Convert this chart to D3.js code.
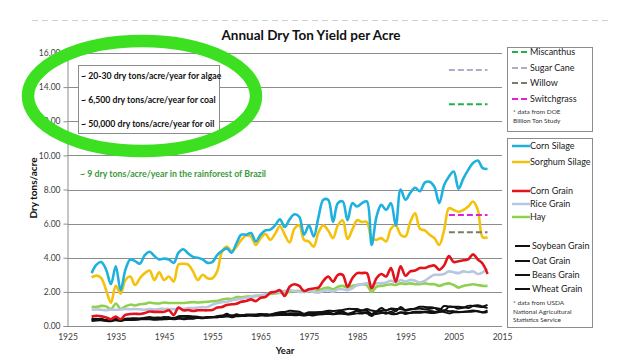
<!DOCTYPE html>
<html><head><meta charset="utf-8">
<script src="https://cdn.jsdelivr.net/npm/d3@7"></script>
<style>body{margin:0;background:#fff}svg{display:block}text{font-family:Lato,"Open Sans",sans-serif}</style>
</head><body><svg id="c" width="640" height="360"></svg>
<script>
const years = d3.range(1930, 2013);
const cornSilage = [3.1,3.6,3.75,3.3,2.45,3.5,2.1,3.3,3.9,3.8,3.65,4.15,4.35,4.1,3.9,3.95,3.9,3.7,4.3,4.5,4.25,4.05,4.0,3.9,3.7,3.75,4.15,4.4,4.55,4.3,4.85,5.35,5.35,5.45,4.95,5.35,5.6,5.65,5.9,6.25,5.8,6.25,6.55,6.4,5.35,5.9,5.25,6.4,7.4,7.4,6.1,7.2,7.3,6.2,7.2,7.0,7.2,7.3,4.75,6.4,7.1,6.8,7.2,5.9,8.0,7.4,7.8,8.1,7.9,8.4,8.45,8.15,7.2,8.25,8.75,9.05,8.05,8.65,9.15,9.55,9.7,9.25,9.2];
const sorghumSilage = [2.85,2.95,2.8,2.1,1.37,2.35,1.9,2.7,2.9,2.4,2.8,3.1,3.25,2.7,3.15,2.7,2.9,2.6,3.6,3.65,3.6,3.2,2.7,3.0,2.8,2.8,3.2,4.35,4.65,4.4,4.65,5.05,5.3,5.25,4.75,5.15,5.4,5.05,5.4,5.85,5.35,4.9,5.7,5.9,5.05,4.95,4.65,5.5,5.9,5.6,5.15,5.9,6.2,5.1,5.65,6.2,6.1,6.1,5.15,5.05,5.15,4.95,5.7,5.9,5.35,5.25,6.1,6.6,5.7,5.6,5.35,5.15,4.75,5.6,6.9,6.8,6.7,6.8,7.0,7.3,6.8,5.2,5.2];
const cornGrain = [0.55,0.6,0.57,0.5,0.4,0.55,0.4,0.65,0.7,0.72,0.7,0.76,0.85,0.83,0.83,0.83,0.92,0.65,1.08,0.92,0.94,0.88,0.92,0.92,0.92,0.94,1.08,1.12,1.23,1.27,1.3,1.42,1.46,1.56,1.46,1.66,1.7,1.95,2.0,2.1,1.76,2.3,2.45,2.35,2.05,2.15,2.2,2.25,2.65,2.9,2.6,3.0,3.0,2.3,2.8,3.1,3.1,3.1,2.2,2.8,3.05,2.9,3.4,2.6,3.5,2.95,3.2,3.25,3.4,3.4,3.5,3.55,3.3,3.55,4.1,3.75,3.8,3.85,3.9,4.2,3.9,3.65,3.05];
const riceGrain = [0.95,0.97,0.95,0.93,0.95,0.95,0.97,1.0,0.98,1.0,0.98,0.95,1.0,0.97,1.0,1.0,1.0,0.98,1.02,1.0,1.05,1.05,1.08,1.1,1.12,1.25,1.35,1.4,1.42,1.5,1.55,1.6,1.65,1.72,1.78,1.8,1.85,1.95,1.95,1.98,2.05,2.1,2.05,2.0,2.0,2.05,2.0,1.95,2.05,2.1,2.0,2.15,2.15,2.1,2.2,2.4,2.45,2.5,2.4,2.5,2.5,2.55,2.65,2.55,2.7,2.6,2.7,2.65,2.55,2.65,2.85,3.0,3.0,3.05,3.2,3.15,3.1,3.2,3.15,3.2,3.05,3.15,3.35];
const hay = [1.12,1.12,1.18,1.15,0.98,1.32,1.0,1.15,1.25,1.2,1.28,1.3,1.38,1.33,1.32,1.38,1.35,1.35,1.35,1.35,1.38,1.4,1.38,1.4,1.42,1.45,1.47,1.55,1.6,1.58,1.7,1.68,1.72,1.72,1.75,1.8,1.82,1.88,1.9,1.95,1.95,2.0,2.05,2.05,2.0,2.05,2.0,2.1,2.2,2.25,2.15,2.3,2.35,2.25,2.35,2.4,2.45,2.4,2.0,2.3,2.35,2.4,2.45,2.4,2.5,2.45,2.5,2.45,2.45,2.5,2.45,2.45,2.35,2.45,2.5,2.4,2.25,2.35,2.4,2.45,2.4,2.35,2.35];
const soybeanGrain = [0.35,0.36,0.37,0.35,0.33,0.37,0.32,0.43,0.44,0.46,0.43,0.48,0.5,0.49,0.5,0.48,0.52,0.44,0.57,0.58,0.58,0.56,0.54,0.48,0.53,0.52,0.57,0.61,0.64,0.63,0.62,0.63,0.63,0.65,0.6,0.65,0.67,0.65,0.71,0.72,0.71,0.73,0.74,0.73,0.63,0.76,0.7,0.81,0.79,0.85,0.7,0.82,0.84,0.7,0.74,0.9,0.89,0.89,0.71,0.86,0.91,0.92,1.0,0.86,1.11,0.94,1.0,1.0,1.02,0.98,1.01,1.05,1.01,0.89,1.12,1.13,1.13,1.1,1.05,1.17,1.14,1.11,1.06];
const oatGrain = [0.44,0.4,0.43,0.31,0.28,0.43,0.3,0.4,0.38,0.41,0.44,0.45,0.51,0.42,0.43,0.53,0.49,0.41,0.5,0.43,0.49,0.5,0.47,0.45,0.51,0.52,0.51,0.54,0.62,0.51,0.6,0.62,0.64,0.64,0.62,0.71,0.61,0.64,0.72,0.72,0.69,0.73,0.7,0.7,0.65,0.66,0.61,0.77,0.73,0.77,0.72,0.75,0.83,0.72,0.8,0.9,0.77,0.74,0.59,0.82,0.82,0.72,0.84,0.7,0.8,0.7,0.78,0.83,0.83,0.83,0.88,0.84,0.83,0.92,0.87,0.87,0.82,0.82,0.87,0.91,0.86,0.79,0.82];
const beansGrain = [0.3,0.32,0.33,0.32,0.29,0.35,0.32,0.35,0.36,0.37,0.39,0.4,0.39,0.36,0.38,0.39,0.41,0.4,0.43,0.45,0.46,0.46,0.48,0.49,0.5,0.51,0.52,0.53,0.55,0.56,0.57,0.58,0.59,0.6,0.59,0.61,0.62,0.61,0.63,0.64,0.64,0.65,0.63,0.64,0.61,0.66,0.65,0.67,0.69,0.71,0.69,0.72,0.72,0.67,0.7,0.74,0.73,0.79,0.7,0.7,0.76,0.77,0.71,0.7,0.78,0.8,0.76,0.78,0.78,0.81,0.77,0.76,0.82,0.82,0.74,0.8,0.8,0.84,0.83,0.85,0.87,0.81,0.92];
const wheatGrain = [0.37,0.43,0.35,0.3,0.34,0.33,0.33,0.36,0.35,0.37,0.4,0.45,0.5,0.44,0.46,0.45,0.46,0.48,0.47,0.4,0.43,0.43,0.48,0.48,0.49,0.52,0.55,0.57,0.72,0.57,0.69,0.62,0.67,0.67,0.68,0.7,0.69,0.68,0.75,0.81,0.82,0.89,0.87,0.83,0.72,0.8,0.8,0.81,0.83,0.9,0.88,0.91,0.94,1.0,1.0,0.99,0.92,0.99,0.91,0.87,1.05,0.9,1.03,1.0,0.99,0.93,0.96,1.03,1.13,1.12,1.1,1.06,0.92,1.17,1.14,1.11,1.02,1.07,1.18,1.18,1.22,1.15,1.24];
const refYears = [2004, 2012];
const refNames = ["Miscanthus","Sugar Cane","Willow","Switchgrass"];
const refValues = [13, 15, 5.5, 6.5];
const usdaNames = ["Corn Silage","Sorghum Silage","Corn Grain","Rice Grain","Hay","Soybean Grain","Oat Grain","Beans Grain","Wheat Grain"];
const yTicks = [0,2,4,6,8,10,12,14,16];
const xTicks = [1925,1935,1945,1955,1965,1975,1985,1995,2005,2015];
const notes = ["~ 20-30 dry tons/acre/year for algae","~ 6,500 dry tons/acre/year for coal","~ 50,000 dry tons/acre/year for oil"];
const brazilNote = "~ 9 dry tons/acre/year in the rainforest of Brazil";

const svg = d3.select("#c");
const x = d3.scaleLinear().domain([1925, 2015]).range([67.5, 502]);
const y = d3.scaleLinear().domain([0, 16]).range([326, 53]);

// top dashed separator
svg.append("line").attr("x1",32).attr("x2",610).attr("y1",20.5).attr("y2",20.5)
  .attr("stroke","#d0d0d0").attr("stroke-width",1).attr("stroke-dasharray","6,4");

// title
svg.append("text").attr("x",311).attr("y",40).attr("text-anchor","middle")
  .attr("font-size",13.5).attr("font-weight","bold").attr("fill","#111").text("Annual Dry Ton Yield per Acre");

// gridlines
svg.append("g").selectAll("line").data(yTicks).join("line")
  .attr("x1",x(1925)).attr("x2",x(2015)).attr("y1",d=>Math.round(y(d))+0.5).attr("y2",d=>Math.round(y(d))+0.5)
  .attr("stroke","#8c8c8c").attr("stroke-width",1);

// y axis
const yAxis = d3.axisLeft(y).tickValues(yTicks).tickFormat(d3.format(".2f")).tickSize(4).tickPadding(3);
const gy = svg.append("g").attr("transform",`translate(${x(1925)},0)`).call(yAxis);
gy.select(".domain").attr("stroke","#8c8c8c");
gy.selectAll(".tick line").attr("stroke","#8c8c8c");
gy.selectAll("text").attr("font-size",8.5).attr("fill","#404040").attr("font-family","Lato");

// x axis
const xAxis = d3.axisBottom(x).tickValues(xTicks).tickFormat(d3.format("d")).tickSize(0).tickPadding(8);
const gx = svg.append("g").attr("transform",`translate(0,${y(0)})`).call(xAxis);
gx.select(".domain").remove();
gx.selectAll("text").attr("font-size",8.5).attr("fill","#404040").attr("font-family","Lato");

// axis titles
svg.append("text").attr("x",285).attr("y",354).attr("text-anchor","middle").attr("font-size",9.5)
  .attr("font-weight","bold").attr("fill","#111").text("Year");
svg.append("text").attr("transform","translate(37,188) rotate(-90)").attr("text-anchor","middle").attr("font-size",10)
  .attr("font-weight","bold").attr("fill","#111").text("Dry tons/acre");

// series
const line = d3.line().x((d,i)=>x(years[i])).y(d=>y(d)).curve(d3.curveCatmullRom.alpha(0.5));
const blackSeries = [soybeanGrain, oatGrain, beansGrain, wheatGrain];
const g = svg.append("g").attr("fill","none");
blackSeries.forEach(s=>g.append("path").attr("d",line(s)).attr("stroke","#111").attr("stroke-width",2));
g.append("path").attr("d",line(hay)).attr("stroke","#8fd14f").attr("stroke-width",2.6);
g.append("path").attr("d",line(riceGrain)).attr("stroke","#b9c6df").attr("stroke-width",2.6);
g.append("path").attr("d",line(cornGrain)).attr("stroke","#e3121b").attr("stroke-width",2.6);
g.append("path").attr("d",line(sorghumSilage)).attr("stroke","#f4c20d").attr("stroke-width",2.6);
g.append("path").attr("d",line(cornSilage)).attr("stroke","#1eb1de").attr("stroke-width",2.6);

// reference dashed lines (DOE)
const refColors = ["#23b04b","#b3aacc","#7f7a66","#e01fd9"];
refValues.forEach((v,i)=>{
  svg.append("line").attr("x1",x(refYears[0])).attr("x2",x(refYears[1])).attr("y1",y(v)).attr("y2",y(v))
    .attr("stroke",refColors[i]).attr("stroke-width",2).attr("stroke-dasharray","6,3");
});

// legend 1
svg.append("rect").attr("x",507.5).attr("y",47.5).attr("width",85).attr("height",84).attr("fill","#fff").attr("stroke","#8c8c8c");
const l1y = [52,68,83,99];
refNames.forEach((n,i)=>{
  svg.append("line").attr("x1",512).attr("x2",528).attr("y1",l1y[i]).attr("y2",l1y[i]).attr("stroke",refColors[i])
    .attr("stroke-width",2).attr("stroke-dasharray","6,3");
  svg.append("text").attr("x",530).attr("y",l1y[i]+3.2).attr("font-size",9).attr("fill","#222").text(n);
});
svg.append("text").attr("x",513).attr("y",114).attr("font-size",6.5).attr("fill","#333").text("* data from DOE");
svg.append("text").attr("x",513).attr("y",123).attr("font-size",6.5).attr("fill","#333").text("Billion Ton Study");

// legend 2
svg.append("rect").attr("x",507.5).attr("y",138.5).attr("width",85).attr("height",189).attr("fill","#fff").attr("stroke","#8c8c8c");
const l2y = [146,162,191,204,217,246,261,275,289];
const l2c = ["#1eb1de","#f4c20d","#e3121b","#b9c6df","#8fd14f","#111","#111","#111","#111"];
usdaNames.forEach((n,i)=>{
  svg.append("line").attr("x1",i<5?512:515).attr("x2",530).attr("y1",l2y[i]).attr("y2",l2y[i]).attr("stroke",l2c[i])
    .attr("stroke-width",i<5?2.5:2);
  svg.append("text").attr("x",i<5?530:532).attr("y",l2y[i]+3.2).attr("font-size",9).attr("fill","#222").text(n);
});
["* data from USDA","National Agricultural","Statistics Service"].forEach((t,i)=>{
  svg.append("text").attr("x",513).attr("y",305+i*8.7).attr("font-size",6.5).attr("fill","#333").text(t);
});

// notes box
svg.append("rect").attr("x",78.5).attr("y",65.5).attr("width",141).attr("height",68).attr("fill","#fff").attr("stroke","#8c8c8c");
notes.forEach((t,i)=>{
  svg.append("text").attr("x",81).attr("y",78.5+i*24).attr("font-size",8.7).attr("font-weight","bold").attr("fill","#111").text(t);
});
svg.append("text").attr("x",80).attr("y",177).attr("font-size",8.8).attr("font-weight","bold").attr("fill","#3c9a3c").text(brazilNote);

// green ellipse
svg.append("ellipse").attr("cx",142).attr("cy",96).attr("rx",114).attr("ry",55)
  .attr("fill","none").attr("stroke","#3ce021").attr("stroke-width",12.5);
</script></body></html>
